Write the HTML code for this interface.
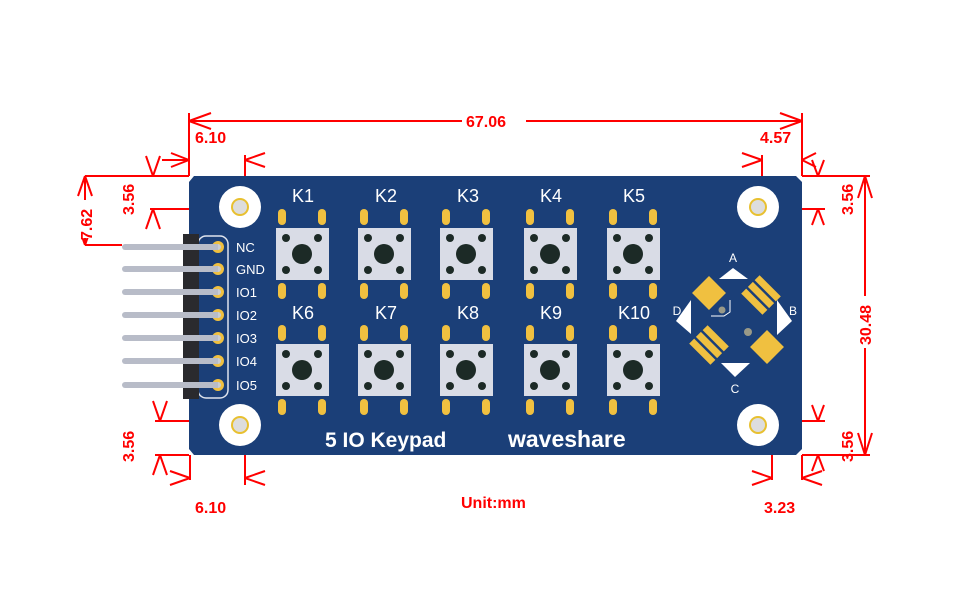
<!DOCTYPE html>
<html><head><meta charset="utf-8"><style>
html,body{margin:0;padding:0;background:#fff}
svg{display:block}
text{font-family:"Liberation Sans",sans-serif}
</style></head><body>
<svg width="960" height="604" viewBox="0 0 960 604" xmlns="http://www.w3.org/2000/svg">
<defs>
<g id="btn">
<rect x="-26" y="-26" width="53" height="52" fill="#d9dce6"/>
<circle cx="0" cy="0" r="10" fill="#1c2a26"/>
<circle cx="-16" cy="-16" r="4" fill="#1c2a26"/><circle cx="16" cy="-16" r="4" fill="#1c2a26"/>
<circle cx="-16" cy="16" r="4" fill="#1c2a26"/><circle cx="16" cy="16" r="4" fill="#1c2a26"/>
<rect x="-24" y="-45" width="8" height="16" rx="4" fill="#f0c040"/><rect x="16" y="-45" width="8" height="16" rx="4" fill="#f0c040"/>
<rect x="-24" y="29" width="8" height="16" rx="4" fill="#f0c040"/><rect x="16" y="29" width="8" height="16" rx="4" fill="#f0c040"/>
</g>
<g id="hole"><circle r="21" fill="#fff"/><circle r="9" fill="#e8c030"/><circle r="7" fill="#ddd"/></g>
<g id="pin"><rect x="-96" y="-3" width="100" height="6" rx="3" fill="#b8bcc8"/><circle cx="0" cy="0" r="6" fill="#f0c040"/><circle cx="0" cy="0" r="3" fill="#c8ccd4"/><rect x="-20" y="-3" width="20" height="6" fill="#b8bcc8"/></g>
</defs>
<!-- board -->
<path d="M194,176 H796 L802,182 V449 L796,455 H194 L189,449 V182 Z" fill="#1b3f78"/>
<use href="#hole" x="240" y="207"/><use href="#hole" x="758" y="207"/>
<use href="#hole" x="240" y="425"/><use href="#hole" x="758" y="425"/>
<!-- header -->
<rect x="198" y="236" width="30" height="162" rx="8" fill="none" stroke="#dfe4ee" stroke-width="1.5"/>
<rect x="183" y="234" width="16" height="165" fill="#2a2a2e"/>
<use href="#pin" x="218" y="247"/><use href="#pin" x="218" y="269"/><use href="#pin" x="218" y="292"/>
<use href="#pin" x="218" y="315"/><use href="#pin" x="218" y="338"/><use href="#pin" x="218" y="361"/><use href="#pin" x="218" y="385"/>
<g fill="#fff" font-size="13">
<text x="236" y="252">NC</text><text x="236" y="274">GND</text><text x="236" y="297">IO1</text>
<text x="236" y="320">IO2</text><text x="236" y="343">IO3</text><text x="236" y="366">IO4</text><text x="236" y="390">IO5</text>
</g>
<!-- buttons -->
<use href="#btn" x="302" y="254"/><use href="#btn" x="384" y="254"/><use href="#btn" x="466" y="254"/><use href="#btn" x="550" y="254"/><use href="#btn" x="633" y="254"/>
<use href="#btn" x="302" y="370"/><use href="#btn" x="384" y="370"/><use href="#btn" x="466" y="370"/><use href="#btn" x="550" y="370"/><use href="#btn" x="633" y="370"/>
<g fill="#fff" font-size="18" text-anchor="middle">
<text x="303" y="202">K1</text><text x="386" y="202">K2</text><text x="468" y="202">K3</text><text x="551" y="202">K4</text><text x="634" y="202">K5</text>
<text x="303" y="319">K6</text><text x="386" y="319">K7</text><text x="468" y="319">K8</text><text x="551" y="319">K9</text><text x="634" y="319">K10</text>
</g>
<text x="325" y="447" fill="#fff" font-size="21" font-weight="bold">5  IO Keypad</text>
<text x="508" y="447" fill="#fff" font-size="23" font-weight="bold">waveshare</text>
<!-- joystick -->
<g fill="#fff">
<path d="M733,268 L748,279 H719 Z"/><path d="M777,300 L792,321 L777,335 Z"/>
<path d="M721,363 H750 L735,377 Z"/><path d="M691,300 L676,321 L691,334 Z"/>
</g>
<g fill="#fff" font-size="12" text-anchor="middle"><text x="733" y="262">A</text><text x="793" y="315">B</text><text x="735" y="393">C</text><text x="677" y="315">D</text></g>
<g fill="#f0c040">
<rect x="-12" y="-12" width="24" height="24" transform="translate(709,293) rotate(45)"/>
<rect x="-12" y="-12" width="24" height="24" transform="translate(767,347) rotate(45)"/>
<g transform="translate(761,295) rotate(45)"><rect x="-15" y="-13" width="30" height="7"/><rect x="-15" y="-3.5" width="30" height="7"/><rect x="-15" y="6" width="30" height="7"/></g>
<g transform="translate(709,345) rotate(45)"><rect x="-15" y="-13" width="30" height="7"/><rect x="-15" y="-3.5" width="30" height="7"/><rect x="-15" y="6" width="30" height="7"/></g>
</g>
<circle cx="722" cy="310" r="3.5" fill="#998"/><circle cx="748" cy="332" r="4" fill="#998"/>
<path d="M730,300 V312 L724,316 H711" fill="none" stroke="#fff" stroke-width="1"/>
<!-- dimensions -->
<g stroke="#f00" stroke-width="2" fill="none">
<path d="M189,113 V176 M802,113 V176 M189,121 H802"/>
<path d="M189,121 l22,-8 M189,121 l22,8 M802,121 l-22,-8 M802,121 l-22,8"/>
<path d="M245,155 V176 M245,160 l20,-7 M245,160 l20,7 M162,160 H189 M189,160 l-18,-7 M189,160 l-18,7"/>
<path d="M762,155 V176 M762,160 l-20,-7 M762,160 l-20,7 M802,160 l14,-7 M802,160 l14,7"/>
<path d="M85,176 H189 M150,209 H189 M85,245 H122"/>
<path d="M85,176 V245 M85,176 l-7,20 M85,176 l7,20 M85,245 l-7,-20 M85,245 l7,-20"/>
<path d="M153,176 l-7,-20 M153,176 l7,-20 M153,209 l-7,20 M153,209 l7,20"/>
<path d="M155,421 H189 M155,455 H189 M160,421 l-7,-20 M160,421 l7,-20 M160,455 l-7,20 M160,455 l7,20"/>
<path d="M190,455 V480 M245,455 V485 M190,478 l-20,-7 M190,478 l-20,7 M245,478 l20,-7 M245,478 l20,7"/>
<path d="M772,455 V480 M802,455 V480 M772,478 l-20,-7 M772,478 l-20,7 M802,478 l20,-7 M802,478 l20,7"/>
<path d="M802,176 H870 M802,455 H870 M865,176 V455 M865,176 l-7,22 M865,176 l7,22 M865,455 l-7,-22 M865,455 l7,-22"/>
<path d="M802,209 H825 M802,421 H825 M818,209 l-6,16 M818,209 l6,16 M818,421 l-6,-16 M818,421 l6,-16 M818,176 l-6,-16 M818,176 l6,-16 M818,455 l-6,16 M818,455 l6,16"/>
</g>
<rect x="462" y="113" width="64" height="18" fill="#fff"/>
<rect x="857" y="296" width="18" height="52" fill="#fff"/>
<rect x="76" y="200" width="18" height="38" fill="#fff"/>
<g fill="#f00" font-size="16" font-weight="bold">
<text x="466" y="127">67.06</text>
<text x="195" y="143">6.10</text>
<text x="760" y="143">4.57</text>
<text x="195" y="513">6.10</text>
<text x="764" y="513">3.23</text>
<text x="461" y="508">Unit:mm</text>
<text transform="translate(134,215) rotate(-90)">3.56</text>
<text transform="translate(92,240) rotate(-90)">7.62</text>
<text transform="translate(134,462) rotate(-90)">3.56</text>
<text transform="translate(853,215) rotate(-90)">3.56</text>
<text transform="translate(853,462) rotate(-90)">3.56</text>
<text transform="translate(871,345) rotate(-90)">30.48</text>
</g>
</svg>
</body></html>
